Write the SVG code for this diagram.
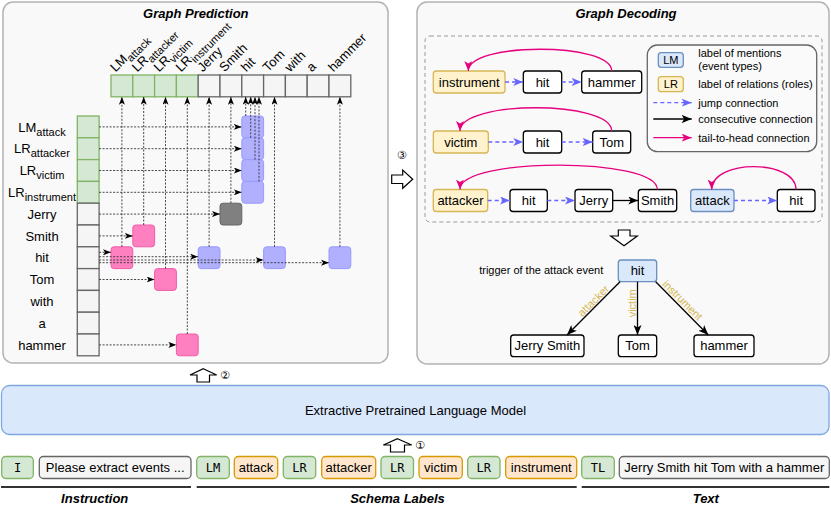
<svg xmlns="http://www.w3.org/2000/svg" width="831" height="512" viewBox="0 0 831 512">
<style>
.t{font-family:'Liberation Sans',Arial,sans-serif;font-size:13px;fill:#000}
.ti{font-weight:bold;font-style:italic}
.s11{font-size:11px}
.mono{font-family:'DejaVu Sans Mono',monospace;font-size:12px}
.circ{font-family:'DejaVu Sans',sans-serif;font-size:11px}
.el{font-size:11px;fill:#d6b656}
.panel{fill:#f9f9f9;stroke:#b3b3b3;stroke-width:1.5}
.dot{stroke:#333;stroke-width:0.9;stroke-dasharray:2 1.5;fill:none}
.green{fill:#d5e8d4;stroke:#82b366;stroke-width:1.3}
.gray{fill:#f5f5f5;stroke:#666;stroke-width:1.3}
.yellow{fill:#fff2cc;stroke:#d6b656;stroke-width:1.3}
.blue{fill:#dae8fc;stroke:#6c8ebf;stroke-width:1.3}
.orange{fill:#ffe6cc;stroke:#d79b00;stroke-width:1.3}
.node{fill:#fff;stroke:#000;stroke-width:1.3}
.mb{fill:#b0b0ff;stroke:#9999ff;stroke-width:1}
.mp{fill:#ff80c0;stroke:#f25aa8;stroke-width:1}
.mg{fill:#808080;stroke:#666;stroke-width:1}
.jump{stroke:#6666ff;stroke-width:1.3;stroke-dasharray:4 3;fill:none}
.cons{stroke:#000;stroke-width:1.3;fill:none}
.tail{stroke:#e6007e;stroke-width:1.3;fill:none}
.blk{fill:#fff;stroke:#000;stroke-width:1.2}
.ul{stroke:#333;stroke-width:2}
</style>
<defs>
<marker id="aDot" viewBox="0 0 8 6" refX="8" refY="3" markerWidth="8" markerHeight="6" markerUnits="userSpaceOnUse" orient="auto"><path d="M0,0 L8,3 L0,6 L2,3 Z" fill="#000"/></marker>
<marker id="aBlue" viewBox="0 0 10 8" refX="10" refY="4" markerWidth="10" markerHeight="8" markerUnits="userSpaceOnUse" orient="auto"><path d="M0,0 L10,4 L0,8 L2.5,4 Z" fill="#6666ff"/></marker>
<marker id="aBlack" viewBox="0 0 10 8" refX="10" refY="4" markerWidth="10" markerHeight="8" markerUnits="userSpaceOnUse" orient="auto"><path d="M0,0 L10,4 L0,8 L2.5,4 Z" fill="#000"/></marker>
<marker id="aPink" viewBox="0 0 10 8" refX="10" refY="4" markerWidth="10" markerHeight="8" markerUnits="userSpaceOnUse" orient="auto"><path d="M0,0 L10,4 L0,8 L2.5,4 Z" fill="#e6007e"/></marker>
</defs>

<!-- Panels -->
<g id="panel-prediction">
<rect class="panel" x="3" y="2" width="385" height="361" rx="10"/>
<text class="t ti" x="195.8" y="17.5" text-anchor="middle">Graph Prediction</text>
</g>
<g id="panel-decoding">
<rect class="panel" x="417" y="2" width="412" height="362" rx="10"/>
<text class="t ti" x="626" y="17.5" text-anchor="middle">Graph Decoding</text>
<rect x="425" y="36" width="397" height="186" rx="5" fill="none" stroke="#999" stroke-dasharray="4 3"/>
</g>

<!-- Header row -->
<g id="header-row">
<rect class="green" x="111" y="75" width="21.8" height="21.8"/>
<rect class="green" x="132.8" y="75" width="21.8" height="21.8"/>
<rect class="green" x="154.6" y="75" width="21.8" height="21.8"/>
<rect class="green" x="176.4" y="75" width="21.8" height="21.8"/>
<rect class="gray" x="198.2" y="75" width="21.8" height="21.8"/>
<rect class="gray" x="220" y="75" width="21.8" height="21.8"/>
<rect class="gray" x="241.8" y="75" width="21.8" height="21.8"/>
<rect class="gray" x="263.6" y="75" width="21.8" height="21.8"/>
<rect class="gray" x="285.4" y="75" width="21.8" height="21.8"/>
<rect class="gray" x="307.2" y="75" width="21.8" height="21.8"/>
<rect class="gray" x="329" y="75" width="21.8" height="21.8"/>
<text class="t" transform="translate(115.5,72.5) rotate(-45)">LM<tspan class="s11" dy="4">attack</tspan></text>
<text class="t" transform="translate(137.3,72.5) rotate(-45)">LR<tspan class="s11" dy="4">attacker</tspan></text>
<text class="t" transform="translate(159.1,72.5) rotate(-45)">LR<tspan class="s11" dy="4">victim</tspan></text>
<text class="t" transform="translate(180.9,72.5) rotate(-45)">LR<tspan class="s11" dy="4">instrument</tspan></text>
<text class="t" transform="translate(202.7,72.5) rotate(-45)">Jerry</text>
<text class="t" transform="translate(224.5,72.5) rotate(-45)">Smith</text>
<text class="t" transform="translate(246.3,72.5) rotate(-45)">hit</text>
<text class="t" transform="translate(268.1,72.5) rotate(-45)">Tom</text>
<text class="t" transform="translate(289.9,72.5) rotate(-45)">with</text>
<text class="t" transform="translate(311.7,72.5) rotate(-45)">a</text>
<text class="t" transform="translate(333.5,72.5) rotate(-45)">hammer</text>
</g>

<!-- Left column -->
<g id="left-column">
<rect class="green" x="77.3" y="116" width="21.8" height="21.8"/>
<rect class="green" x="77.3" y="137.8" width="21.8" height="21.8"/>
<rect class="green" x="77.3" y="159.6" width="21.8" height="21.8"/>
<rect class="green" x="77.3" y="181.4" width="21.8" height="21.8"/>
<rect class="gray" x="77.3" y="203.2" width="21.8" height="21.8"/>
<rect class="gray" x="77.3" y="225" width="21.8" height="21.8"/>
<rect class="gray" x="77.3" y="246.8" width="21.8" height="21.8"/>
<rect class="gray" x="77.3" y="268.6" width="21.8" height="21.8"/>
<rect class="gray" x="77.3" y="290.4" width="21.8" height="21.8"/>
<rect class="gray" x="77.3" y="312.2" width="21.8" height="21.8"/>
<rect class="gray" x="77.3" y="334" width="21.8" height="21.8"/>
<text class="t" x="42" y="131.5" text-anchor="middle">LM<tspan class="s11" dy="4">attack</tspan></text>
<text class="t" x="42" y="153.3" text-anchor="middle">LR<tspan class="s11" dy="4">attacker</tspan></text>
<text class="t" x="42" y="175.1" text-anchor="middle">LR<tspan class="s11" dy="4">victim</tspan></text>
<text class="t" x="42" y="196.9" text-anchor="middle">LR<tspan class="s11" dy="4">instrument</tspan></text>
<text class="t" x="42" y="218.7" text-anchor="middle">Jerry</text>
<text class="t" x="42" y="240.5" text-anchor="middle">Smith</text>
<text class="t" x="42" y="262.3" text-anchor="middle">hit</text>
<text class="t" x="42" y="284.1" text-anchor="middle">Tom</text>
<text class="t" x="42" y="305.9" text-anchor="middle">with</text>
<text class="t" x="42" y="327.7" text-anchor="middle">a</text>
<text class="t" x="42" y="349.5" text-anchor="middle">hammer</text>
</g>

<!-- Matrix cells -->
<g id="matrix-cells">
<rect class="mb" x="241.8" y="116" width="21.8" height="21.8" rx="3"/>
<rect class="mb" x="241.8" y="137.8" width="21.8" height="21.8" rx="3"/>
<rect class="mb" x="241.8" y="159.6" width="21.8" height="21.8" rx="3"/>
<rect class="mb" x="241.8" y="181.4" width="21.8" height="21.8" rx="3"/>
<rect class="mg" x="220" y="203.2" width="21.8" height="21.8" rx="3"/>
<rect class="mp" x="132.8" y="225" width="21.8" height="21.8" rx="3"/>
<rect class="mp" x="111" y="246.8" width="21.8" height="21.8" rx="3"/>
<rect class="mb" x="198.2" y="246.8" width="21.8" height="21.8" rx="3"/>
<rect class="mb" x="263.6" y="246.8" width="21.8" height="21.8" rx="3"/>
<rect class="mb" x="329" y="246.8" width="21.8" height="21.8" rx="3"/>
<rect class="mp" x="154.6" y="268.6" width="21.8" height="21.8" rx="3"/>
<rect class="mp" x="176.4" y="334" width="21.8" height="21.8" rx="3"/>
</g>

<!-- Matrix connectors -->
<g id="matrix-connectors" marker-end="url(#aDot)">
<line class="dot" x1="99.1" y1="126.9" x2="241.8" y2="126.9"/>
<line class="dot" x1="99.1" y1="148.7" x2="241.8" y2="148.7"/>
<line class="dot" x1="99.1" y1="170.5" x2="241.8" y2="170.5"/>
<line class="dot" x1="99.1" y1="192.3" x2="241.8" y2="192.3"/>
<line class="dot" x1="99.1" y1="214.1" x2="220" y2="214.1"/>
<line class="dot" x1="99.1" y1="235.9" x2="132.8" y2="235.9"/>
<line class="dot" x1="99.1" y1="252.3" x2="111" y2="252.3"/>
<line class="dot" x1="99.1" y1="256.7" x2="198.2" y2="256.7"/>
<line class="dot" x1="99.1" y1="260" x2="263.6" y2="260"/>
<line class="dot" x1="99.1" y1="262.7" x2="329" y2="262.7"/>
<line class="dot" x1="99.1" y1="279.5" x2="154.6" y2="279.5"/>
<line class="dot" x1="99.1" y1="344.9" x2="176.4" y2="344.9"/>
<line class="dot" x1="121.9" y1="246.8" x2="121.9" y2="96.8"/>
<line class="dot" x1="143.7" y1="225" x2="143.7" y2="96.8"/>
<line class="dot" x1="165.5" y1="268.6" x2="165.5" y2="96.8"/>
<line class="dot" x1="187.3" y1="334" x2="187.3" y2="96.8"/>
<line class="dot" x1="209.1" y1="246.8" x2="209.1" y2="96.8"/>
<line class="dot" x1="230.9" y1="203.2" x2="230.9" y2="96.8"/>
<line class="dot" x1="245.7" y1="116" x2="245.7" y2="96.8"/>
<line class="dot" x1="250.7" y1="137.8" x2="250.7" y2="96.8"/>
<line class="dot" x1="255" y1="159.6" x2="255" y2="96.8"/>
<line class="dot" x1="259" y1="181.4" x2="259" y2="96.8"/>
<line class="dot" x1="274.5" y1="246.8" x2="274.5" y2="96.8"/>
<line class="dot" x1="339.9" y1="246.8" x2="339.9" y2="96.8"/>
</g>

<!-- Step arrows -->
<g id="step3">
<polygon class="blk" points="391.7,175 402.7,175 402.7,170 412.7,179.2 402.7,188.3 402.7,183.5 391.7,183.5"/>
<text class="t circ" x="401.7" y="159" text-anchor="middle">③</text>
</g>
<g id="step2">
<polygon class="blk" points="203.3,368.7 216.7,375 209.5,375 209.5,382 197,382 197,375 190,375"/>
<text class="t circ" x="225" y="378.7" text-anchor="middle">②</text>
</g>
<g id="step1">
<polygon class="blk" points="397.5,438.7 411.7,445 404.5,445 404.5,452 390.5,452 390.5,445 383.3,445"/>
<text class="t circ" x="420" y="449.3" text-anchor="middle">①</text>
</g>
<g id="decode-arrow">
<polygon class="blk" points="618.3,230 630,230 630,236 637.3,236 624,245.7 610.7,236 618.3,236"/>
</g>

<!-- Legend -->
<g id="legend">
<rect x="647.3" y="45" width="169.4" height="106.7" rx="10" fill="#fafafa" stroke="#666" stroke-width="1.3"/>
<rect class="blue" x="658.3" y="52.7" width="25" height="14.6" rx="3"/>
<text class="t s11" x="670.8" y="64" text-anchor="middle">LM</text>
<rect class="yellow" x="658.3" y="76.7" width="25" height="15" rx="3"/>
<text class="t s11" x="670.8" y="88.2" text-anchor="middle">LR</text>
<text class="t s11" x="698.3" y="56.5">label of mentions</text>
<text class="t s11" x="698.3" y="69.5">(event types)</text>
<text class="t s11" x="698.3" y="88">label of relations (roles)</text>
<line class="jump" x1="653.3" y1="102.7" x2="691.7" y2="102.7" marker-end="url(#aBlue)"/>
<text class="t s11" x="698.3" y="106.5">jump connection</text>
<line class="cons" x1="653.3" y1="119" x2="691.7" y2="119" marker-end="url(#aBlack)"/>
<text class="t s11" x="698.3" y="123">consecutive connection</text>
<line class="tail" x1="653.3" y1="137.7" x2="691.7" y2="137.7" marker-end="url(#aPink)"/>
<text class="t s11" x="698.3" y="141.5">tail-to-head connection</text>
</g>

<!-- Decoding nodes -->
<g id="r1-instrument"><rect class="yellow" x="433.3" y="71" width="71.7" height="22" rx="3"/><text class="t" x="469.2" y="86.5" text-anchor="middle">instrument</text></g>
<g id="r1-hit"><rect class="node" x="523.3" y="71" width="38.4" height="22" rx="3"/><text class="t" x="542.5" y="86.5" text-anchor="middle">hit</text></g>
<g id="r1-hammer"><rect class="node" x="581.7" y="71" width="60" height="22" rx="3"/><text class="t" x="611.7" y="86.5" text-anchor="middle">hammer</text></g>
<g id="r2-victim"><rect class="yellow" x="433.3" y="131" width="55" height="22" rx="3"/><text class="t" x="460.8" y="146.5" text-anchor="middle">victim</text></g>
<g id="r2-hit"><rect class="node" x="523.3" y="131" width="38.4" height="22" rx="3"/><text class="t" x="542.5" y="146.5" text-anchor="middle">hit</text></g>
<g id="r2-tom"><rect class="node" x="592.7" y="131" width="38" height="22" rx="3"/><text class="t" x="611.7" y="146.5" text-anchor="middle">Tom</text></g>
<g id="r3-attacker"><rect class="yellow" x="433.3" y="189.5" width="54.4" height="22" rx="3"/><text class="t" x="460.5" y="205" text-anchor="middle">attacker</text></g>
<g id="r3-hit"><rect class="node" x="510" y="189.5" width="37.3" height="22" rx="3"/><text class="t" x="528.7" y="205" text-anchor="middle">hit</text></g>
<g id="r3-jerry"><rect class="node" x="575" y="189.5" width="37.7" height="22" rx="3"/><text class="t" x="593.8" y="205" text-anchor="middle">Jerry</text></g>
<g id="r3-smith"><rect class="node" x="638.3" y="189.5" width="38.4" height="22" rx="3"/><text class="t" x="657.5" y="205" text-anchor="middle">Smith</text></g>
<g id="r3-attack"><rect class="blue" x="690.7" y="189.5" width="43.3" height="22" rx="3"/><text class="t" x="712.3" y="205" text-anchor="middle">attack</text></g>
<g id="r3-hit2"><rect class="node" x="777.3" y="189.5" width="37.7" height="22" rx="3"/><text class="t" x="796.2" y="205" text-anchor="middle">hit</text></g>

<!-- Event graph nodes -->
<g id="ev-hit"><rect class="blue" x="618.3" y="260" width="38.4" height="21.7" rx="3"/><text class="t" x="637.5" y="275.3" text-anchor="middle">hit</text></g>
<g id="ev-trigger-note"><text class="t s11" x="603.3" y="274" text-anchor="end">trigger of the attack event</text></g>
<g id="ev-jerrysmith"><rect class="node" x="510.7" y="335" width="73.3" height="21.7" rx="3"/><text class="t" x="547.3" y="350.3" text-anchor="middle">Jerry Smith</text></g>
<g id="ev-tom"><rect class="node" x="618.3" y="335" width="38.4" height="21.7" rx="3"/><text class="t" x="637.5" y="350.3" text-anchor="middle">Tom</text></g>
<g id="ev-hammer"><rect class="node" x="694" y="335" width="60" height="21.7" rx="3"/><text class="t" x="724" y="350.3" text-anchor="middle">hammer</text></g>

<!-- Decoding connectors -->
<g id="decoding-connectors">
<line class="jump" x1="505" y1="82" x2="523.3" y2="82" marker-end="url(#aBlue)"/>
<line class="jump" x1="561.7" y1="82" x2="581.7" y2="82" marker-end="url(#aBlue)"/>
<line class="jump" x1="488.3" y1="142" x2="523.3" y2="142" marker-end="url(#aBlue)"/>
<line class="jump" x1="561.7" y1="142" x2="592.7" y2="142" marker-end="url(#aBlue)"/>
<line class="jump" x1="487.7" y1="200.5" x2="510" y2="200.5" marker-end="url(#aBlue)"/>
<line class="jump" x1="547.3" y1="200.5" x2="575" y2="200.5" marker-end="url(#aBlue)"/>
<line class="cons" x1="612.7" y1="200.5" x2="638.3" y2="200.5" marker-end="url(#aBlack)"/>
<line class="jump" x1="734" y1="200.5" x2="777.3" y2="200.5" marker-end="url(#aBlue)"/>
<path class="tail" d="M611.7,71 C611.7,42 468.3,42 468.3,71" marker-end="url(#aPink)"/>
<path class="tail" d="M611.7,131 C611.7,100 460,100 460,131" marker-end="url(#aPink)"/>
<path class="tail" d="M657.3,189.5 C657.3,157 460,157 460,189.5" marker-end="url(#aPink)"/>
<path class="tail" d="M796,189.5 C796,159 711.7,159 711.7,189.5" marker-end="url(#aPink)"/>
<line class="cons" x1="620" y1="281.7" x2="567" y2="335" marker-end="url(#aBlack)"/>
<line class="cons" x1="637.5" y1="281.7" x2="637.5" y2="335" marker-end="url(#aBlack)"/>
<line class="cons" x1="655.7" y1="281.7" x2="708.3" y2="335" marker-end="url(#aBlack)"/>
<text class="t el" transform="translate(593.3,300.7) rotate(-45)" text-anchor="middle" dy="4">attacker</text>
<text class="t el" transform="translate(631.7,303.3) rotate(-90)" text-anchor="middle" dy="4">victim</text>
<text class="t el" transform="translate(682.7,300) rotate(45)" text-anchor="middle" dy="4">instrument</text>
</g>

<!-- PLM -->
<g id="plm">
<rect x="1.5" y="385.5" width="827.5" height="49" rx="8" fill="#dae8fc" stroke="#7ea6e0" stroke-width="1.3"/>
<text class="t" x="415.5" y="414.5" text-anchor="middle">Extractive Pretrained Language Model</text>
</g>

<!-- Input tokens -->
<g id="tok-I"><rect class="green" x="1.7" y="456.5" width="31.6" height="22" rx="4"/><text class="t mono" x="17.5" y="472" text-anchor="middle">I</text></g>
<g id="tok-instruction"><rect class="gray" x="39.3" y="456.5" width="151.7" height="22" rx="4"/><text class="t" x="115.2" y="472" text-anchor="middle">Please extract events ...</text></g>
<g id="tok-LM"><rect class="green" x="196.7" y="456.5" width="32.6" height="22" rx="4"/><text class="t mono" x="213" y="472" text-anchor="middle">LM</text></g>
<g id="tok-attack"><rect class="orange" x="234.3" y="456.5" width="43.4" height="22" rx="4"/><text class="t" x="256" y="472" text-anchor="middle">attack</text></g>
<g id="tok-LR1"><rect class="green" x="283.3" y="456.5" width="32.4" height="22" rx="4"/><text class="t mono" x="299.5" y="472" text-anchor="middle">LR</text></g>
<g id="tok-attacker"><rect class="orange" x="321.7" y="456.5" width="54" height="22" rx="4"/><text class="t" x="348.7" y="472" text-anchor="middle">attacker</text></g>
<g id="tok-LR2"><rect class="green" x="381" y="456.5" width="32.5" height="22" rx="4"/><text class="t mono" x="397.2" y="472" text-anchor="middle">LR</text></g>
<g id="tok-victim"><rect class="orange" x="419" y="456.5" width="43.3" height="22" rx="4"/><text class="t" x="440.7" y="472" text-anchor="middle">victim</text></g>
<g id="tok-LR3"><rect class="green" x="467.7" y="456.5" width="32.3" height="22" rx="4"/><text class="t mono" x="483.8" y="472" text-anchor="middle">LR</text></g>
<g id="tok-instrument"><rect class="orange" x="505.7" y="456.5" width="71" height="22" rx="4"/><text class="t" x="541.2" y="472" text-anchor="middle">instrument</text></g>
<g id="tok-TL"><rect class="green" x="581.7" y="456.5" width="32.6" height="22" rx="4"/><text class="t mono" x="598" y="472" text-anchor="middle">TL</text></g>
<g id="tok-text"><rect class="gray" x="619.3" y="456.5" width="210" height="22" rx="4"/><text class="t" x="724.3" y="472" text-anchor="middle">Jerry Smith hit Tom with a hammer</text></g>

<!-- Section labels -->
<g id="sections">
<line class="ul" x1="1" y1="487" x2="191" y2="487"/>
<line class="ul" x1="196.7" y1="487" x2="576.7" y2="487"/>
<line class="ul" x1="581.7" y1="487" x2="829.3" y2="487"/>
<text class="t ti" x="94.7" y="502.5" text-anchor="middle">Instruction</text>
<text class="t ti" x="397.5" y="502.5" text-anchor="middle">Schema Labels</text>
<text class="t ti" x="705.8" y="502.5" text-anchor="middle">Text</text>
</g>
</svg>
